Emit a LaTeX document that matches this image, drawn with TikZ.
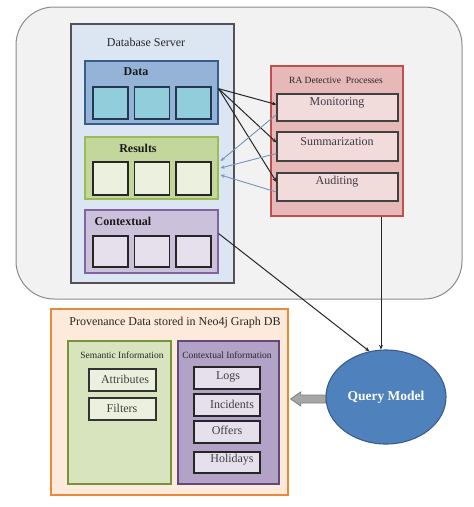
\documentclass[tikz,border=0pt]{standalone}
\usepackage{fontspec}
\setmainfont{Liberation Serif}
\usetikzlibrary{arrows.meta,calc,shapes.geometric}
\definecolor{bgfill}{HTML}{F2F2F2}
\definecolor{bgline}{HTML}{8C8C8C}
\definecolor{dbfill}{HTML}{DCE6F2}
\definecolor{dbline}{HTML}{404040}
\definecolor{datafill}{HTML}{95B3D7}
\definecolor{dataline}{HTML}{385D8A}
\definecolor{datasq}{HTML}{92CDDC}
\definecolor{resfill}{HTML}{C3D69B}
\definecolor{resline}{HTML}{9BBB59}
\definecolor{ressq}{HTML}{EBF1DE}
\definecolor{ctxfill}{HTML}{CCC1DA}
\definecolor{ctxline}{HTML}{8064A2}
\definecolor{ctxsq}{HTML}{E6E0EC}
\definecolor{rafill}{HTML}{E6B9B8}
\definecolor{raline}{HTML}{C0504D}
\definecolor{rasub}{HTML}{F2DCDB}
\definecolor{provfill}{HTML}{FDEADA}
\definecolor{provline}{HTML}{E46C0A}
\definecolor{semfill}{HTML}{D7E4BD}
\definecolor{semline}{HTML}{77933C}
\definecolor{cinffill}{HTML}{B3A2C7}
\definecolor{cinfline}{HTML}{604A7B}
\definecolor{qmfill}{HTML}{4F81BD}
\definecolor{qmline}{HTML}{385D8A}
\definecolor{bluearrow}{HTML}{7393BF}
\definecolor{fatfill}{HTML}{A6A6A6}
\definecolor{fatline}{HTML}{7F7F7F}
\definecolor{subtext}{HTML}{3A3A4A}
\tikzset{
  box/.style={draw, rectangle, inner sep=0pt, line width=1.1pt},
  sq/.style={box, draw=black!85, minimum width=35pt},
  sub/.style={box, draw=black!75, line width=1.1pt},
  txt/.style={inner sep=0pt, font=\fontsize{12}{14}\selectfont, text=black!85},
  btxt/.style={inner sep=0pt, font=\fontsize{12}{14}\selectfont\bfseries, text=black!90},
  stxt/.style={inner sep=0pt, font=\fontsize{9.5}{11}\selectfont, text=black!85},
  subtxt/.style={inner sep=0pt, font=\fontsize{12}{14}\selectfont, text=subtext},
  blk/.style={draw=black!85, line width=1pt, -{Stealth[length=4.5pt,width=3.8pt]}},
  blu/.style={draw=bluearrow, line width=0.9pt, -{Stealth[length=4pt,width=3.5pt]}},
  fatarrow/.style={draw=fatline, fill=fatfill, line width=0.8pt, line join=miter},
}
\begin{document}
\begin{tikzpicture}[x=1pt,y=-1pt]
\useasboundingbox (0,0) rectangle (474,507);
% outer background
\draw[fill=bgfill, draw=bgline, line width=1pt, rounded corners=38pt] (16,7) rectangle (462,299);

% Database server
\node[box, fill=dbfill, draw=dbline!90, line width=1.3pt, minimum width=163pt, minimum height=259pt] (db) at (152.5,153.5) {};
\node[txt] (dbt) at (146,42) {Database Server};

\node[box, fill=datafill, draw=dataline, minimum width=133pt, minimum height=63pt] (data) at (151.5,92.5) {};
\node[btxt] (datat) at (136,72) {Data};
\node[sq, fill=datasq, draw=dataline!60!black, minimum height=32pt] (d1) at (110.5,103) {};
\node[sq, fill=datasq, draw=dataline!60!black, minimum height=32pt] (d2) at (152,103) {};
\node[sq, fill=datasq, draw=dataline!60!black, minimum height=32pt] (d3) at (193.5,103) {};

\node[box, fill=resfill, draw=resline, minimum width=133pt, minimum height=62pt] (res) at (151.5,168) {};
\node[btxt] (rest) at (138,148) {Results};
\node[sq, fill=ressq, minimum height=33pt] (r1) at (110.5,178.5) {};
\node[sq, fill=ressq, minimum height=33pt] (r2) at (152,178.5) {};
\node[sq, fill=ressq, minimum height=33pt] (r3) at (193.5,178.5) {};

\node[box, fill=ctxfill, draw=ctxline, minimum width=133pt, minimum height=63pt] (ctx) at (151.5,241.5) {};
\node[btxt] (ctxt) at (123,221) {Contextual};
\node[sq, fill=ctxsq, minimum height=31pt] (c1) at (110.5,251.5) {};
\node[sq, fill=ctxsq, minimum height=31pt] (c2) at (152,251.5) {};
\node[sq, fill=ctxsq, minimum height=31pt] (c3) at (193.5,251.5) {};

% RA detective processes
\node[box, fill=rafill, draw=raline, minimum width=132pt, minimum height=150pt] (ra) at (337,141) {};
\node[stxt] (rat) at (336,80) {RA Detective \ Processes};
\node[sub, fill=rasub, minimum width=121pt, minimum height=27pt] (mon) at (337.5,107.5) {};
\node[subtxt] (mont) at (337,103) {Monitoring};
\node[sub, fill=rasub, minimum width=121pt, minimum height=29pt] (sum) at (337.5,146.5) {};
\node[subtxt] (sumt) at (337,142) {Summarization};
\node[sub, fill=rasub, minimum width=121pt, minimum height=28pt] (aud) at (337.5,187) {};
\node[subtxt] (audt) at (337,182) {Auditing};

% connectors data -> processes
\coordinate (dsrc) at ($(data.north east)!0.44!(data.south east)$);
\draw[blk] (dsrc) -- ([yshift=3pt]mon.west);
\draw[blk] (dsrc) -- ([yshift=4pt]sum.west);
\draw[blk] (dsrc) -- ([yshift=5pt]aud.west);
% processes -> results
\draw[blu] ([yshift=-7pt]mon.west) -- ([xshift=2pt,yshift=7pt]res.east);
\draw[blu] ([yshift=-7pt]sum.west) -- ([xshift=2pt]res.east);
\draw[blu] ([yshift=-5pt]aud.west) -- ([xshift=2pt,yshift=-7pt]res.east);

% Provenance
\node[box, fill=provfill, draw=provline!80, line width=1.3pt, minimum width=237pt, minimum height=186pt] (prov) at (169.5,402) {};
\node[txt] (provt) at (175,323) {Provenance Data stored in Neo4j Graph DB};

\node[box, fill=semfill, draw=semline, minimum width=103pt, minimum height=143pt] (sem) at (119.5,412.5) {};
\node[stxt] (semt) at (122,355) {Semantic Information};
\node[sub, fill=ressq, draw=black!80, minimum width=67pt, minimum height=22pt] (attr) at (122.5,380) {};
\node[txt, text=black!75] (attrt) at (125,379) {Attributes};
\node[sub, fill=ressq, draw=black!80, minimum width=67pt, minimum height=22pt] (filt) at (122.5,409) {};
\node[txt, text=black!75] (filtt) at (122,408) {Filters};

\node[box, fill=cinffill, draw=cinfline, minimum width=101pt, minimum height=143pt] (cinf) at (228.5,412.5) {};
\node[stxt] (cinft) at (227,355) {Contextual Information};
\node[sub, fill=ctxsq, draw=black!85, minimum width=66pt, minimum height=22pt] (logs) at (227,378) {};
\node[txt, text=black!75] (logst) at (228,377) {Logs};
\node[sub, fill=ctxsq, draw=black!85, minimum width=66pt, minimum height=22pt] (inc) at (227,405) {};
\node[txt, text=black!75] (inct) at (232,404) {Incidents};
\node[sub, fill=ctxsq, draw=black!85, minimum width=66pt, minimum height=22pt] (off) at (227,432) {};
\node[txt, text=black!75] (offt) at (227,430) {Offers};
\node[sub, fill=ctxsq, draw=black!85, minimum width=66pt, minimum height=21pt] (hol) at (227,462.5) {};
\node[txt, text=black!75] (holt) at (232,460) {Holidays};

% Query model
\node[draw=qmline, fill=qmfill, ellipse, line width=1.1pt, minimum width=120pt, minimum height=94pt, inner sep=0pt, text=white, font=\fontsize{13.5}{16}\selectfont\bfseries] (qm) at (386,397) {Query Model};

% connectors to query model
\draw[blk] ([yshift=8pt]ctx.east) -- (qm.110);
\draw[blk] ([xshift=44pt]ra.south) -- ([xshift=44pt]ra.south |- qm.north);

% fat arrow
\coordinate (tip) at ([xshift=2pt,yshift=-2pt]prov.east |- qm.west);
\draw[fatarrow] ([yshift=2pt]qm.west) -- ([xshift=10pt,yshift=4pt]tip) -- ([xshift=10pt,yshift=7pt]tip) -- (tip) -- ([xshift=10pt,yshift=-7pt]tip) -- ([xshift=10pt,yshift=-4pt]tip) -- ([yshift=-6pt]qm.west) -- cycle;
\end{tikzpicture}
\end{document}
